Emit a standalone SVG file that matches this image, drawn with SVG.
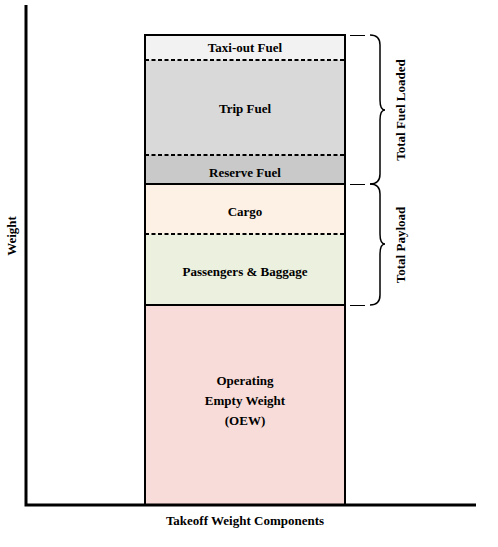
<svg xmlns="http://www.w3.org/2000/svg" width="498" height="547" viewBox="0 0 498 547">
<style>
text{font-family:'Liberation Serif','Times New Roman',Times,'DejaVu Serif',serif;font-weight:700;font-size:13px;fill:#000;text-anchor:middle}
.seg{stroke:none}
.dash{stroke:#000;stroke-width:2;stroke-dasharray:4,2.5;fill:none}
.solid{stroke:#000;stroke-width:2;fill:none}
.axis{stroke:#000;stroke-width:3;fill:none}
.tick{stroke:#000;stroke-width:1;fill:none}
.brace{stroke:#000;stroke-width:1.5;fill:none}
</style>
<rect width="498" height="547" fill="#fff"/>
<g id="taxi"><rect class="seg" x="145" y="35" width="200" height="25" fill="#f2f2f2"/><text x="245" y="52">Taxi-out Fuel</text></g>
<g id="trip"><rect class="seg" x="145" y="60" width="200" height="95" fill="#d9d9d9"/><text x="245" y="113">Trip Fuel</text></g>
<g id="reserve"><rect class="seg" x="145" y="155" width="200" height="29" fill="#c9c9c9"/><text x="245" y="177">Reserve Fuel</text></g>
<g id="cargo"><rect class="seg" x="145" y="184" width="200" height="50" fill="#fdf1e6"/><text x="245" y="216">Cargo</text></g>
<g id="pax"><rect class="seg" x="145" y="234" width="200" height="71" fill="#ebf1de"/><text x="245" y="276">Passengers &amp; Baggage</text></g>
<g id="oew"><rect class="seg" x="145" y="305" width="200" height="200" fill="#f8dcd9"/>
<text x="245" y="385">Operating</text><text x="245" y="405">Empty Weight</text><text x="245" y="425">(OEW)</text></g>
<g id="connectors">
<rect x="145" y="35" width="200" height="470" class="solid"/>
<line x1="145" y1="60" x2="345" y2="60" class="dash"/>
<line x1="145" y1="155" x2="345" y2="155" class="dash"/>
<line x1="145" y1="184" x2="345" y2="184" class="solid"/>
<line x1="145" y1="234" x2="345" y2="234" class="dash"/>
<line x1="145" y1="305" x2="345" y2="305" class="solid"/>
<path d="M26 5V505H476" class="axis"/>
<line x1="350" y1="35.5" x2="365" y2="35.5" class="tick"/>
<line x1="350" y1="184.5" x2="365" y2="184.5" class="tick"/>
<line x1="350" y1="305.5" x2="365" y2="305.5" class="tick"/>
<path d="M370 35Q380 35 380 45V100Q380 110 385 110Q380 110 380 120V174Q380 184 370 184" class="brace"/>
<path d="M370 184Q380 184 380 194V234Q380 244 385 244Q380 244 380 254V295Q380 305 370 305" class="brace"/>
</g>
<g id="labels">
<text transform="translate(405,110) rotate(-90)">Total Fuel Loaded</text>
<text transform="translate(405,245) rotate(-90)">Total Payload</text>
<text transform="translate(16,236) rotate(-90)">Weight</text>
<text x="245" y="525">Takeoff Weight Components</text>
</g>
</svg>
